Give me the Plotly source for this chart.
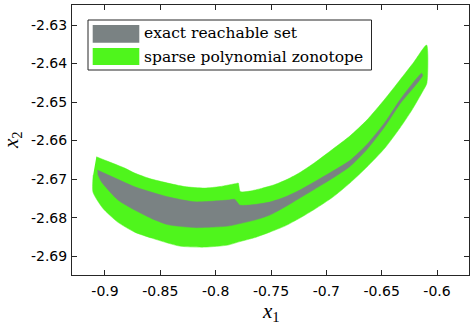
import plotly.graph_objects as go

# ---- data ----
green_x = [-0.90778, -0.89575, -0.88219, -0.87315, -0.85958, -0.84331, -0.82794, -0.80985,
           -0.79629, -0.78119, -0.77957, -0.77776, -0.76917, -0.75859, -0.74656, -0.73481,
           -0.72396, -0.71039, -0.69412, -0.67875, -0.66338, -0.64711, -0.63354, -0.62088,
           -0.60942,
           -0.60913, -0.61275, -0.62269, -0.63354, -0.64711, -0.66338, -0.67875, -0.69412,
           -0.71039, -0.72396, -0.73752, -0.75109, -0.76465, -0.77821, -0.78906, -0.80985,
           -0.83246, -0.85778, -0.87315, -0.88852, -0.90208, -0.91085, -0.91067]
green_y = [-2.66421, -2.66558, -2.66714, -2.66844, -2.66987, -2.67104, -2.67195, -2.67234,
           -2.67195, -2.67112, -2.67104, -2.67325, -2.67312, -2.67242, -2.67143, -2.67000,
           -2.66831, -2.66571, -2.66221, -2.65883, -2.65468, -2.64922, -2.64429, -2.63961,
           -2.63519,
           -2.64506, -2.64714, -2.65208, -2.65675, -2.66195, -2.66688, -2.67104, -2.67468,
           -2.67779, -2.68013, -2.68221, -2.68377, -2.68519, -2.68623, -2.68714, -2.68766,
           -2.68740, -2.68532, -2.68377, -2.68117, -2.67753, -2.67338, -2.66896]

gray_x = [-0.90687, -0.89575, -0.87315, -0.84331, -0.81890, -0.78906, -0.78273, -0.77821,
          -0.76917, -0.75109, -0.73752, -0.72396, -0.69412, -0.67875, -0.66338, -0.64711,
          -0.63354, -0.61393,
          -0.61302, -0.63354, -0.64711, -0.66338, -0.67875, -0.69412, -0.72396, -0.73752,
          -0.75109, -0.76465, -0.77821, -0.78906, -0.81890, -0.84331, -0.85805, -0.87315,
          -0.88825, -0.90326, -0.90660]
gray_y = [-2.66766, -2.66909, -2.67200, -2.67460, -2.67590, -2.67545, -2.67527, -2.67675,
          -2.67675, -2.67597, -2.67468, -2.67286, -2.66792, -2.66519, -2.66104, -2.65532,
          -2.64948, -2.64255,
          -2.64312, -2.65052, -2.65636, -2.66234, -2.66675, -2.66974, -2.67494, -2.67727,
          -2.67935, -2.68065, -2.68156, -2.68221, -2.68260, -2.68182, -2.68021, -2.67805,
          -2.67545, -2.67070, -2.66870]

x_ticks = [-0.9, -0.85, -0.8, -0.75, -0.7, -0.65, -0.6]
x_tick_labels = ["-0.9", "-0.85", "-0.8", "-0.75", "-0.7", "-0.65", "-0.6"]
y_ticks = [-2.69, -2.68, -2.67, -2.66, -2.65, -2.64, -2.63]
y_tick_labels = ["-2.69", "-2.68", "-2.67", "-2.66", "-2.65", "-2.64", "-2.63"]
legend_names = ["exact reachable set", "sparse polynomial zonotope"]

GREEN = "#4ff51c"
GRAY = "#7a8283"
AX = "#262626"

fig = go.Figure()
fig.add_trace(go.Scatter(x=green_x, y=green_y, fill="toself", fillcolor=GREEN,
                         mode="lines", line=dict(width=0.5, color=GREEN, shape="spline", smoothing=0.6),
                         name=legend_names[1], showlegend=False, hoverinfo="skip"))
fig.add_trace(go.Scatter(x=gray_x, y=gray_y, fill="toself", fillcolor=GRAY,
                         mode="lines", line=dict(width=0.5, color=GRAY, shape="spline", smoothing=0.6),
                         name=legend_names[0], showlegend=False, hoverinfo="skip"))

L, R, T, B = 72, 5, 5, 52
W, H = 474, 327
pw, ph = W - L - R, H - T - B


def px(xp):
    return (xp - L) / pw


def py(yp):
    return (H - B - yp) / ph


shapes = [
    dict(type="rect", xref="paper", yref="paper", x0=px(88), x1=px(371.5), y0=py(70), y1=py(20),
         line=dict(color=AX, width=1), fillcolor="white", layer="above"),
    dict(type="rect", xref="paper", yref="paper", x0=px(92.7), x1=px(139.3), y0=py(42.7), y1=py(25),
         line=dict(width=0), fillcolor=GRAY, layer="above"),
    dict(type="rect", xref="paper", yref="paper", x0=px(92.7), x1=px(139.3), y0=py(65), y1=py(48),
         line=dict(width=0), fillcolor=GREEN, layer="above"),
]

annotations = [
    dict(text=legend_names[0], xref="paper", yref="paper", x=px(142), y=py(33.5),
         xanchor="left", yanchor="middle", showarrow=False,
         font=dict(family="DejaVu Serif", size=15.5, color="black")),
    dict(text=legend_names[1], xref="paper", yref="paper", x=px(142), y=py(56.5),
         xanchor="left", yanchor="middle", showarrow=False,
         font=dict(family="DejaVu Serif", size=15.5, color="black")),
    dict(text="<i>x</i><sub>1</sub>", xref="paper", yref="paper", x=0.5, y=py(312),
         xanchor="center", yanchor="middle", showarrow=False,
         font=dict(family="Liberation Serif", size=21, color="black")),
    dict(text="<i>x</i><sub>2</sub>", xref="paper", yref="paper", x=px(12), y=py(140),
         xanchor="center", yanchor="middle", showarrow=False, textangle=-90,
         font=dict(family="Liberation Serif", size=21, color="black")),
]

axis_common = dict(showgrid=False, zeroline=False, showline=True, linecolor=AX, linewidth=1,
                   mirror="ticks", ticks="inside", ticklen=5, tickwidth=1, tickcolor=AX,
                   tickfont=dict(family="DejaVu Sans", size=14, color="black"))

fig.update_layout(
    width=W, height=H,
    margin=dict(l=L, r=R, t=T, b=B),
    paper_bgcolor="white", plot_bgcolor="white",
    showlegend=False,
    xaxis=dict(range=[-0.9298, -0.5711], tickvals=x_ticks, ticktext=x_tick_labels,
               ticklabelstandoff=3, **axis_common),
    yaxis=dict(range=[-2.6949, -2.6248], tickvals=y_ticks, ticktext=y_tick_labels,
               ticklabelstandoff=1, **axis_common),
    shapes=shapes,
    annotations=annotations,
)

fig.write_html("out.html")
